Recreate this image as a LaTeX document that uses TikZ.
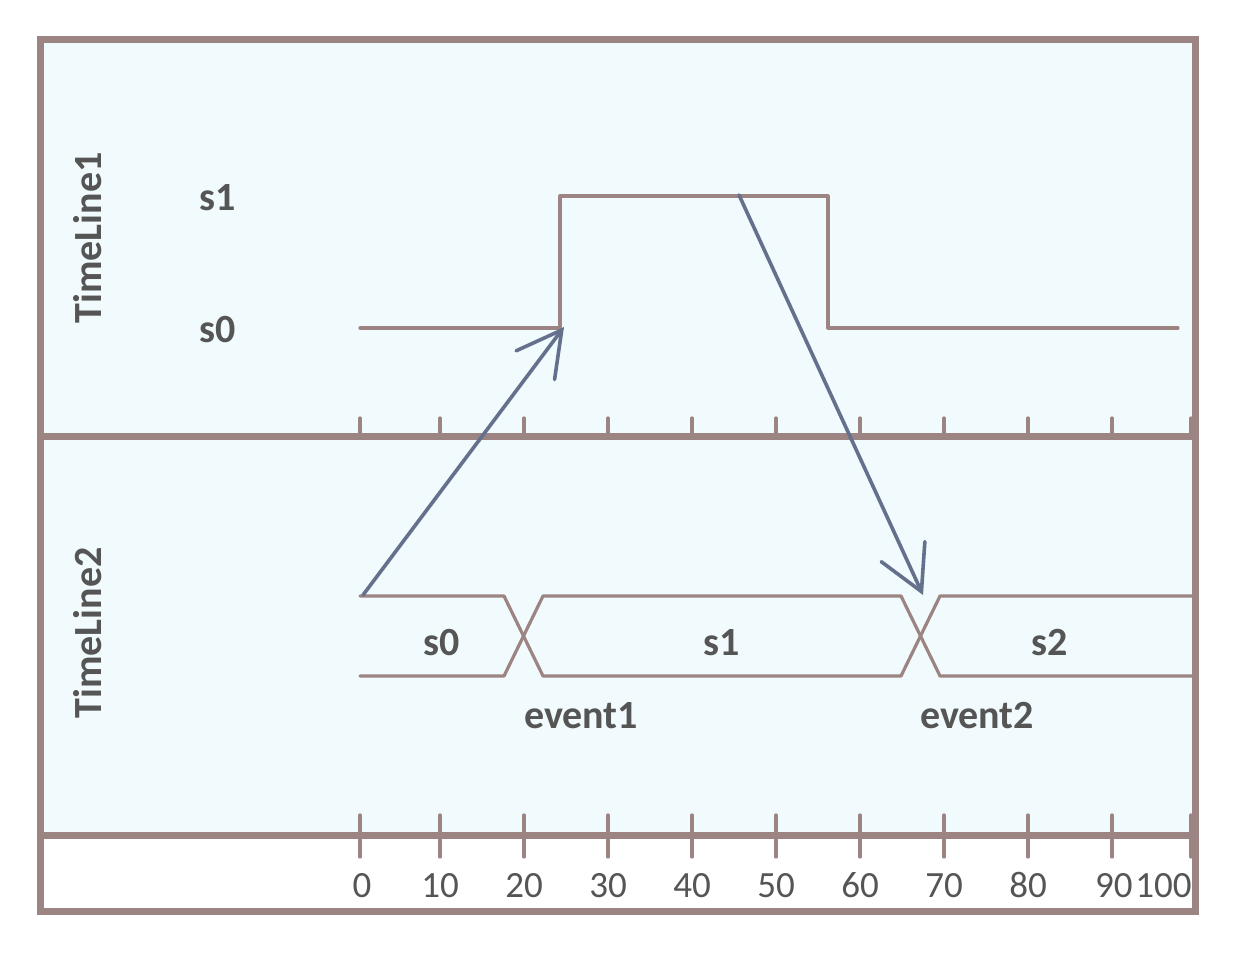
\documentclass[tikz,border=0pt]{standalone}
\usepackage{fontspec}
\setmainfont{Carlito}
\usetikzlibrary{arrows.meta}
\definecolor{framec}{RGB}{155,132,130}
\definecolor{panelc}{RGB}{241,250,252}
\definecolor{arrowc}{RGB}{100,112,140}
\definecolor{textc}{RGB}{85,85,85}
\tikzset{
  frameline/.style={draw=framec, line width=3.5pt},
  sigline/.style={draw=framec, line width=1.6pt, line join=round, line cap=round},
  tickline/.style={draw=framec, line width=1.6pt, line cap=round},
  msgarrow/.style={draw=arrowc, line width=1.8pt, line cap=round,
    -{Straight Barb[length=22pt, width=24pt, line cap=round]}},
  lbl/.style={text=textc, font=\fontsize{20}{22}\selectfont\bfseries, inner sep=0pt},
  ticklbl/.style={text=textc, font=\fontsize{18.5}{20}\selectfont, inner sep=0pt, anchor=base},
}
\begin{document}
\begin{tikzpicture}[x=0.5pt, y=-0.5pt]
\useasboundingbox (0,0) rectangle (1240,956);
\fill[white] (0,0) rectangle (1240,956);
% panels
\fill[panelc] (40,40) rectangle (1195,835);
\fill[white] (40,835) rectangle (1195,911);
% ticks top panel
\foreach \x in {360,440,524,608,692,776,860,944,1028,1112,1191}
  \draw[tickline] (\x,418) -- (\x,436);
% ticks bottom
\foreach \x in {360,440,524,608,692,776,860,944,1028,1112,1191}
  \draw[tickline] (\x,815) -- (\x,857);
% frame
\draw[frameline] (40,40) rectangle (1195,911);
\draw[frameline] (40,436) -- (1195,436);
\draw[frameline] (40,835) -- (1195,835);
% labels lifelines
\node[lbl, rotate=90] (tl1) at (88,238) {TimeLine1};
\node[lbl, rotate=90] (tl2) at (88,633) {TimeLine2};
\node[lbl] (st1) at (218,198) {s1};
\node[lbl] (st0) at (218,330) {s0};
% timeline 1 signal
\draw[sigline] (360,328) -- (560,328) -- (560,196) -- (828,196) -- (828,328) -- (1178,328);
% timeline 2
\draw[sigline] (360,596) -- (504,596) -- (543,676) -- (901,676) -- (940,596) -- (1192,596);
\draw[sigline] (360,676) -- (504,676) -- (543,596) -- (901,596) -- (940,676) -- (1192,676);
\node[lbl] (v0) at (442,643) {s0};
\node[lbl] (v1) at (722,643) {s1};
\node[lbl] (v2) at (1050,643) {s2};
\node[lbl] (ev1) at (581,716) {event1};
\node[lbl] (ev2) at (977,716) {event2};
% message arrows
\coordinate (a1s) at (363,595);
\coordinate (a1e) at (564,327);
\coordinate (a2s) at (739,195);
\coordinate (a2e) at (923,595);
\draw[msgarrow] (a1s) -- (a1e);
\draw[msgarrow] (a2s) -- (a2e);
% axis labels
\node[ticklbl] (t0) at (362,897) {0};
\node[ticklbl] (t10) at (440,897) {10};
\node[ticklbl] (t20) at (524,897) {20};
\node[ticklbl] (t30) at (608,897) {30};
\node[ticklbl] (t40) at (692,897) {40};
\node[ticklbl] (t50) at (776,897) {50};
\node[ticklbl] (t60) at (860,897) {60};
\node[ticklbl] (t70) at (944,897) {70};
\node[ticklbl] (t80) at (1028,897) {80};
\node[ticklbl, anchor=base east] (t90) at (1133,897) {90};
\node[ticklbl, anchor=base east] (t100) at (1192,897) {100};
\end{tikzpicture}
\end{document}
